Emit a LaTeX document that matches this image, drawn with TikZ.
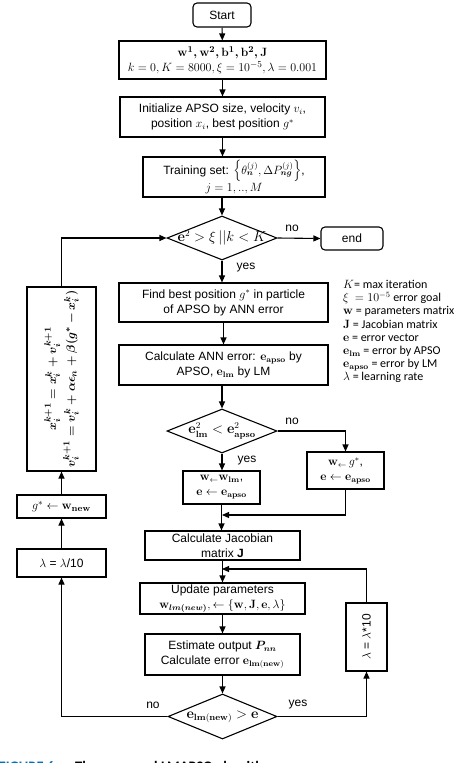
\documentclass[tikz,border=0pt]{standalone}
\usepackage{amsmath}
\usepackage[no-math]{fontspec}
\setmainfont{Liberation Sans}
\newfontfamily\legfont{Carlito}
\usetikzlibrary{shapes.geometric,arrows.meta}
\definecolor{capblue}{RGB}{0,114,188}
\tikzset{
  box/.style={draw, line width=1.1pt, inner sep=1pt, align=center, font=\fontsize{12}{15}\selectfont},
  dia/.style={draw, diamond, line width=1.1pt, inner sep=0pt},
  arr/.style={line width=1.1pt, -{Triangle[length=7pt,width=6pt]}},
  lbl/.style={font=\fontsize{12}{14}\selectfont, inner sep=0pt},
  dtext/.style={font=\fontsize{13.5}{16}\selectfont, inner sep=0pt},
  rtext/.style={font=\fontsize{12.2}{15}\selectfont, inner sep=0pt},
}
\begin{document}
\begin{tikzpicture}[x=1pt,y=-1pt]
\useasboundingbox (0,0) rectangle (474,763);
\clip (0,0) rectangle (474,763);
% main column
\node[box, rounded corners=4pt, minimum width=58pt, minimum height=24pt] (start) at (222,15) {Start};
\node[box, minimum width=207pt, minimum height=38pt] (wbox) at (222.5,60)
  {{\fontsize{13}{15}\selectfont\boldmath$\mathbf{w}^1, \mathbf{w}^2, \mathbf{b}^1, \mathbf{b}^2, \mathbf{J}$}\\ {\fontsize{13}{15}\selectfont$k = 0, K = 8000, \xi = 10^{-5}, \lambda = 0.001$}};
\node[box, minimum width=205pt, minimum height=40pt] (init) at (222.5,117)
  {Initialize APSO size, velocity $v_i$,\\ position $x_i$, best position $g^*$};
\node[box, minimum width=182pt, minimum height=40pt] (train) at (234,177)
  {Training set: $\left\{\theta_{\boldsymbol{n}}^{(j)}, \Delta P_{\boldsymbol{ng}}^{(j)}\right\}$,\\ $j = 1,..,M$};
\node[dia, minimum width=110pt, minimum height=44pt,
  label={[dtext]center:$\mathbf{e}^2 > \xi\,||k < K$}] (d1) at (222,238) {};
\node[box, rounded corners=4pt, minimum width=62pt, minimum height=23pt] (endn) at (352,238.5) {end};
\node[box, minimum width=209pt, minimum height=39pt] (find) at (223.5,302.5)
  {Find best position $g^*$ in particle\\ of APSO by ANN error};
\node[box, minimum width=209pt, minimum height=40pt] (calc) at (223.5,365)
  {Calculate ANN error: $\mathbf{e}_{\mathbf{apso}}$ by\\ APSO, $\mathbf{e}_{\mathbf{lm}}$ by LM};
\node[dia, minimum width=110pt, minimum height=44pt,
  label={[dtext]center:$\mathbf{e}_{\mathbf{lm}}^2 < \mathbf{e}_{\mathbf{apso}}^2$}] (d2) at (222,431) {};
\node[box, minimum width=77pt, minimum height=37pt] (wg) at (345.5,470.5)
  {$\mathbf{w}_{\leftarrow}\, g^*$,\\ $\mathbf{e} \leftarrow \mathbf{e}_{\mathbf{apso}}$};
\node[box, minimum width=77pt, minimum height=33pt] (wlm) at (221.5,487.5)
  {$\mathbf{w}_{\leftarrow}\mathbf{w}_{\mathbf{lm}}$,\\ $\mathbf{e} \leftarrow \mathbf{e}_{\mathbf{apso}}$};
\node[box, minimum width=155pt, minimum height=29pt] (jac) at (222.5,545.5)
  {Calculate Jacobian\\ matrix \textbf{J}};
\node[box, minimum width=165pt, minimum height=31pt] (upd) at (222.5,598.5)
  {Update parameters\\ $\mathbf{w}_{\boldsymbol{lm(new)}}, \leftarrow \{\mathbf{w}, \mathbf{J}, \mathbf{e}, \lambda\}$};
\node[box, minimum width=155pt, minimum height=41pt] (est) at (222.5,654.5)
  {Estimate output $\boldsymbol{P_{nn}}$\\ Calculate error $\mathbf{e}_{\mathbf{lm(new)}}$};
\node[dia, minimum width=109pt, minimum height=45pt,
  label={[dtext]center:$\mathbf{e}_{\mathbf{lm(new)}} > \mathbf{e}$}] (d3) at (222.5,716.5) {};
% right
\node[box, minimum width=41pt, minimum height=68pt,
  label={[lbl, rotate=90]center:$\lambda$ = $\lambda$*10}] (l10) at (366.5,637) {};
% left column
\node[box, minimum width=69pt, minimum height=184pt,
  label={[rtext, rotate=90, align=center]center:{\boldmath$x_i^{k+1} = x_i^k + v_i^{k+1}$}\\[2pt]{\boldmath$v_i^{k+1} = v_i^k + \alpha\epsilon_n + \beta(g^* - x_i^k)$}}] (rot) at (61.5,379) {};
\node[box, minimum width=89pt, minimum height=23pt] (gst) at (61.5,506.5)
  {\fontsize{13}{15}\selectfont$g^* \leftarrow \mathbf{w}_{\mathbf{new}}$};
\node[box, minimum width=89pt, minimum height=28pt] (ldiv) at (61.5,563)
  {$\lambda$ = $\lambda$/10};
% legend
\node[anchor=north west, align=left, inner sep=0pt, font=\legfont\fontsize{12}{13.2}\selectfont] (legend) at (343,280)
  {$K$= max iteration\\
   $\xi\ = 10^{-5}$ error goal\\
   $\mathbf{w}$ = parameters matrix\\
   $\mathbf{J}$ = Jacobian matrix\\
   $\mathbf{e}$ = error vector\\
   $\mathbf{e}_{\mathbf{lm}}$ = error by APSO\\
   $\mathbf{e}_{\mathbf{apso}}$ = error by LM\\
   $\lambda$ = learning rate};
% labels
\node[lbl] (no1) at (292,228) {no};
\node[lbl] (yes1) at (246,268) {yes};
\node[lbl] (no2) at (292,421) {no};
\node[lbl] (yes2) at (247,461) {yes};
\node[lbl] (no3) at (153,705) {no};
\node[lbl] (yes3) at (298,705) {yes};
% caption (cut off by the lower edge)
\node[anchor=base west, inner sep=0pt, font=\legfont\bfseries\fontsize{14.5}{16}\selectfont, text=capblue] (capa) at (-1,771) {FIGURE 6.};
\node[anchor=base west, inner sep=0pt, font=\legfont\bfseries\fontsize{14.5}{16}\selectfont] (capb) at (75,771) {The proposed LMAPSO algorithm};
% connectors
\coordinate (m1) at (222,515);
\coordinate (m2) at (222,569);
\draw[arr] (start) -- (wbox);
\draw[arr] (wbox) -- (init);
\draw[arr] (init.south) -- (init.south |- train.north);
\draw[arr] (d1.north |- train.south) -- (d1.north);
\draw[arr] (d1.east) -- (endn.west);
\draw[arr] (d1.south) -- (d1.south |- find.north);
\draw[arr] (find) -- (calc);
\draw[arr] (calc.south -| d2.north) -- (d2.north);
\draw[arr] (d2.east) -| (wg.north);
\draw[arr] (d2.south) -- (d2.south |- wlm.north);
\draw[arr] (wg.south) |- (m1);
\draw[arr] (wlm.south) -- (wlm.south |- jac.north);
\draw[arr] (jac) -- (upd);
\draw[arr] (l10.north) |- (m2);
\draw[arr] (upd) -- (est);
\draw[arr] (est) -- (d3);
\draw[arr] (d3.west) -| (ldiv.south);
\draw[arr] (d3.east) -| (l10.south);
\draw[arr] (ldiv) -- (gst);
\draw[arr] (gst) -- (rot);
\draw[arr] (rot.north) |- (d1.west);
\end{tikzpicture}
\end{document}
